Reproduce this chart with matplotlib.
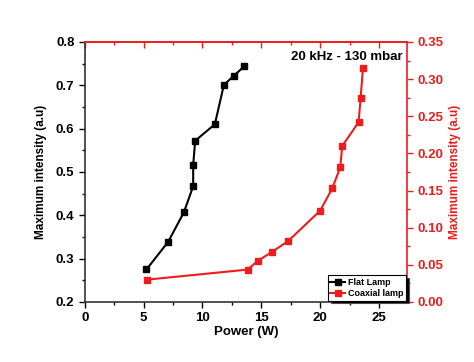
import matplotlib
matplotlib.use("Agg")
import matplotlib.pyplot as plt
from matplotlib.ticker import MultipleLocator

plt.rcParams['font.family'] = ['Liberation Sans', 'DejaVu Sans']
plt.rcParams['font.weight'] = 'bold'

# ---------- Données ----------

flat_power = [5.24, 7.09, 8.42, 9.21, 9.21, 9.38, 11.05, 11.82, 12.67, 13.55]
flat_int   = [0.275, 0.339, 0.407, 0.467, 0.516, 0.572, 0.610, 0.701, 0.722, 0.744]

coax_power = [5.30, 13.83, 14.68, 15.87, 17.29, 20.01, 21.03, 21.71, 21.88, 23.27, 23.44, 23.64]
coax_int   = [0.030, 0.0435, 0.055, 0.067, 0.082, 0.123, 0.153, 0.181, 0.210, 0.242, 0.274, 0.315]

red = '#ee1c1c'

# ---------- Figure ----------

fig = plt.figure(figsize=(4.74, 3.62), dpi=100)
ax = fig.add_axes([0.179, 0.166, 0.680, 0.718])
ax2 = ax.twinx()

l1, = ax.plot(flat_power, flat_int, '-s', color='black', lw=1.5, ms=5, label='Flat Lamp')
l2, = ax2.plot(coax_power, coax_int, '-s', color=red, lw=1.5, ms=5, label='Coaxial lamp')

ax.set_xlim(0, 27.4)
ax.set_ylim(0.2, 0.8)
ax2.set_ylim(0, 0.35)

ax.xaxis.set_major_locator(MultipleLocator(5))
ax.xaxis.set_minor_locator(MultipleLocator(2.5))
ax.yaxis.set_major_locator(MultipleLocator(0.1))
ax.yaxis.set_minor_locator(MultipleLocator(0.05))
ax2.yaxis.set_major_locator(MultipleLocator(0.05))
ax2.yaxis.set_minor_locator(MultipleLocator(0.025))
ax2.yaxis.set_major_formatter(plt.FormatStrFormatter('%.2f'))

ax.tick_params(axis='both', which='major', length=4, width=1, labelsize=9.5, direction='out')
ax.tick_params(axis='both', which='minor', length=2, width=1, direction='out')
ax2.tick_params(axis='y', which='major', length=4, width=1, labelsize=9.5, colors=red)
ax2.tick_params(axis='y', which='minor', length=2, width=1, colors=red)

# graduations rouges sur l'axe du haut (vers l'intérieur)
top = ax.secondary_xaxis('top')
top.xaxis.set_major_locator(MultipleLocator(5))
top.xaxis.set_minor_locator(MultipleLocator(2.5))
top.tick_params(axis='x', which='major', direction='in', length=4, width=1, color=red, labeltop=False)
top.tick_params(axis='x', which='minor', direction='in', length=2, width=1, color=red)
top.spines['top'].set_color(red)
top.spines['top'].set_linewidth(1.2)

for s in ['left', 'bottom']:
    ax.spines[s].set_color('#333333')
    ax.spines[s].set_linewidth(1.2)
ax2.spines['right'].set_color(red)
ax2.spines['top'].set_color(red)
ax2.spines['right'].set_linewidth(1.2)
ax2.spines['top'].set_linewidth(1.2)
ax2.spines['left'].set_visible(False)
ax2.spines['bottom'].set_visible(False)
ax.spines['right'].set_visible(False)
ax.spines['top'].set_visible(False)

ax.set_xlabel('Power (W)', fontsize=9.5, fontweight='bold', labelpad=1)
ax.set_ylabel('Maximum intensity (a.u)', fontsize=8.5, fontweight='bold', labelpad=6)
ax2.set_ylabel('Maximum intensity (a.u)', fontsize=8.5, fontweight='bold', color=red)

ax.text(0.985, 0.965, '20 kHz - 130 mbar', transform=ax.transAxes, ha='right', va='top',
        fontsize=9.5, fontweight='bold')

leg = ax2.legend(handles=[l1, l2], loc='lower right', fontsize=6.5, frameon=True,
                 fancybox=False, shadow={'facecolor': 'black', 'alpha': 1},
                 borderaxespad=0.15, handlelength=1.6, handletextpad=0.3,
                 borderpad=0.3, labelspacing=0.2, markerscale=0.9)
leg.get_frame().set_edgecolor('black')
leg.get_frame().set_linewidth(0.8)

fig.savefig('out.png', dpi=100)
